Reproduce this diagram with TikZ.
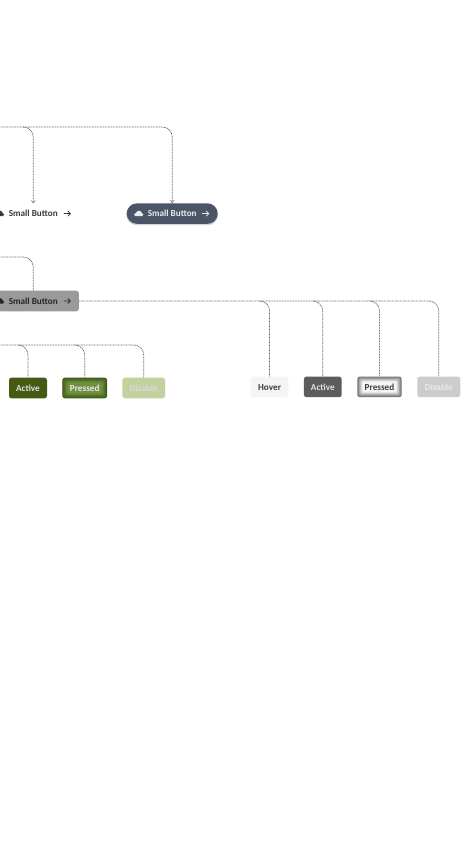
\documentclass[tikz,border=0pt]{standalone}
\usepackage{fontspec}
\setmainfont{Carlito}
\usetikzlibrary{arrows.meta,shadows}
\definecolor{linegray}{HTML}{666666}
\definecolor{pillfill}{HTML}{4A5568}
\definecolor{btngray}{HTML}{9A9A9A}
\definecolor{ink}{HTML}{3A3A3A}
\definecolor{grayouter}{HTML}{727272}
\definecolor{grayinner}{HTML}{F5F5F5}
\definecolor{greenouter}{HTML}{3E5418}
\definecolor{greeninner}{HTML}{6F9040}
\definecolor{greenactive}{HTML}{465A14}
\definecolor{greendisable}{HTML}{C3D0A0}
\tikzset{
  link/.style={draw=linegray,line width=.75pt,dash pattern=on .9pt off .7pt,rounded corners=10pt},
  linktip/.style={link,-{Straight Barb[length=2.4pt,width=4pt,line width=.5pt]}},
  lbl/.style={font=\bfseries\fontsize{9.2}{10}\selectfont,inner sep=0pt,align=center,text height=6.6pt,text depth=0pt},
  btn/.style={lbl,minimum height=20.6pt,minimum width=#1,rounded corners=2.5pt},
  inset/.style n args={2}{fill=#1,path picture={
    \foreach \k/\p in {1/10,2/20,3/30,4/40,5/50,6/60,7/70,8/80,9/90,10/100}{
      \fill[rounded corners=1.5pt,#2!\p!#1]
        ([shift={(\k*.5pt,\k*.5pt)}]path picture bounding box.south west)
        rectangle ([shift={(-\k*.5pt,-\k*.5pt)}]path picture bounding box.north east);
    }}},
  pics/cloudicon/.style={code={
    \fill[#1] (-3.2,2.6) -- (3.2,2.6)
      .. controls (5.2,2.6) and (5.4,-.4) .. (3.2,-.6)
      .. controls (2.6,-3.4) and (-1.6,-3.6) .. (-2.4,-.9)
      .. controls (-5,-.9) and (-5.2,2.6) .. (-3.2,2.6) -- cycle;
  }},
  pics/arrowicon/.style={code={
    \draw[#1,line width=.8pt,line cap=round,line join=round]
      (-3.2,0) -- (3.2,0) (.7,-2.4) -- (3.2,0) -- (.7,2.4);
  }}
}
\begin{document}
\begin{tikzpicture}[x=1pt,y=-1pt]
\useasboundingbox (0,0) rectangle (474,842);
\clip (0,0) rectangle (474,842);
\fill[white] (0,0) rectangle (474,842);

% row 1
\coordinate (rowa) at (-4,127);
\coordinate (rowabranch) at (23.3,127);
\coordinate (plaintop) at (33.3,203.3);
\node[btn=91pt,text=ink] (plain) at (33.3,213.6) {Small Button};
\node[btn=91pt,rounded corners=10.3pt,fill=pillfill,text=white!92!black,
  general shadow={fill=black,opacity=.16,shadow yshift=-1.2pt,shadow scale=1.01}] (pill) at (172.2,213.6) {Small Button};
\path[linktip] (rowa) -| (plaintop);
\path[linktip] (rowabranch) -| (pill.north);
\pic at (-.5,213.6) {cloudicon=ink};
\pic at (67.2,213.6) {arrowicon=ink};
\pic at (138.6,213.6) {cloudicon=white!92!black};
\pic at (205.6,213.6) {arrowicon=white!92!black};

% row 2
\coordinate (rowb) at (-4,257);
\node[btn=91pt,fill=btngray,text=black!85] (grey) at (33.3,301) {Small Button};
\path[link] (rowb) -| (grey.north);
\pic at (-.5,301) {cloudicon=black!85};
\pic at (67.2,301) {arrowicon=black!85};

% gray state row
\node[btn=37.4pt,fill=black!4,text=ink] (hover) at (269.6,386.9) {Hover};
\node[btn=37.7pt,fill=black!64,text=white!88!black] (activeg) at (322.8,386.9) {Active};
\node[btn=44.4pt,inset={grayouter}{grayinner},text=ink] (pressedg) at (379.5,386.9) {Pressed};
\node[btn=43pt,fill=black!20,text=black!8] (disableg) at (438.8,386.9) {Disable};
\path[link] (grey.east) -| (hover.north);
\path[link] ([xshift=-10pt]hover.north |- grey.east) -| (activeg.north);
\path[link] ([xshift=-10pt]activeg.north |- grey.east) -| (pressedg.north);
\path[link] ([xshift=-10pt]pressedg.north |- grey.east) -| (disableg.north);

% green state row
\coordinate (rowc) at (-4,345);
\node[btn=38pt,fill=greenactive,text=white!88!black] (activec) at (28,388) {Active};
\node[btn=44.7pt,inset={greenouter}{greeninner},text=white!92!black] (pressedc) at (84.7,388) {Pressed};
\node[btn=42.7pt,fill=greendisable,text=white!85!black] (disablec) at (143.7,388) {Disable};
\path[link] (rowc) -| (activec.north);
\path[link] ([xshift=-10pt]activec.north |- rowc) -| (pressedc.north);
\path[link] ([xshift=-10pt]pressedc.north |- rowc) -| (disablec.north);
\end{tikzpicture}
\end{document}
